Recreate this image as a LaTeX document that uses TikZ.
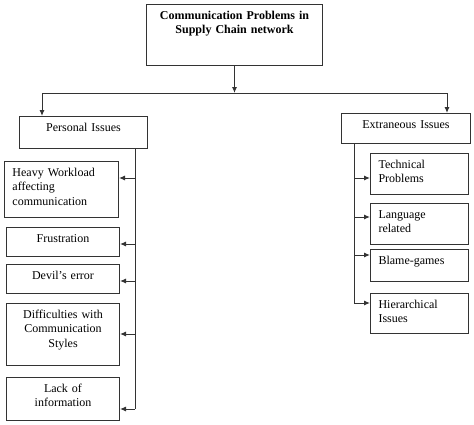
\documentclass[tikz,border=0pt]{standalone}
\usepackage{fontspec}
\setmainfont{Liberation Serif}
\usetikzlibrary{arrows.meta}
\usetikzlibrary{positioning}

\begin{document}
\begin{tikzpicture}[
x=1pt, y=-1pt,
every node/.style={
	% The shape:
	rectangle,
	% The border:
	draw=black!80, line width=1pt,
	% The text:
	font=\fontsize{12}{14.5}\selectfont,
	text height=9pt, inner ysep=5.5pt, inner xsep=8pt,
	anchor=north west},
issue/.style={align=center}, % centred text
cause/.style={align=left}, % ragged text
line/.style={line width=1pt, draw=black!80},
link/.style={line, -{Latex[length=6pt,width=5pt]}},
]
\useasboundingbox (0,0) rectangle (474,424);

% the root and the two branches
\node[issue, text width=160pt, text depth=41pt] (problems) at (146,4)
	{\bfseries Communication Problems in\\Supply Chain network};
\node[issue, text width=112pt, text depth=12pt] (personal) at (19,116) {Personal Issues};
\node[issue, text width=113pt, text depth=10pt] (extraneous) at (341,113) {Extraneous Issues};

% personal issues
\node[cause, text width=98pt, text depth=36pt] (heavy) at (4,161)
	{Heavy Workload\\affecting\\communication};
\node[issue, text width=97pt, text depth=9pt] (frustration) at (6,227) {Frustration};
\node[issue, text width=97pt, text depth=9pt] (devil) at (6,264) {Devil's error};
\node[issue, text width=97pt, text depth=42pt] (difficulties) at (6,303)
	{Difficulties with\\Communication\\Styles};
\node[issue, text width=97pt, text depth=23pt] (lack) at (6,377) {Lack of\\information};

% extraneous issues
\node[cause, text width=82pt, text depth=21pt] (technical) at (370,153) {Technical\\Problems};
\node[cause, text width=82pt, text depth=21pt] (language) at (370,203) {Language\\related};
\node[cause, text width=82pt, text depth=12pt] (blame) at (370,249) {Blame-games};
\node[cause, text width=82pt, text depth=20pt] (hierarchical) at (370,293) {Hierarchical\\Issues};

% connectors
\coordinate (busL) at (42,93);
\coordinate (busR) at (447,93);
\draw[link] (problems.south) -- (problems.south |- busL);
\draw[line] (busL) -- (busR);
\draw[link] (busL) -- (busL |- personal.north);
\draw[link] (busR) -- (busR |- extraneous.north);

\coordinate (spineL) at (135,409);
\draw[line] (personal.south -| spineL) -- (spineL);
\foreach \n/\y in {heavy/178, frustration/244, devil/281, difficulties/334, lack/409}
	\draw[link] (135,\y) coordinate (tap) -- (\n.east |- tap);

\coordinate (spineR) at (354,303);
\draw[line] (extraneous.south -| spineR) -- (spineR);
\foreach \n/\y in {technical/178, language/217, blame/255, hierarchical/303}
	\draw[link] (354,\y) coordinate (tap) -- (\n.west |- tap);
\end{tikzpicture}
\end{document}
